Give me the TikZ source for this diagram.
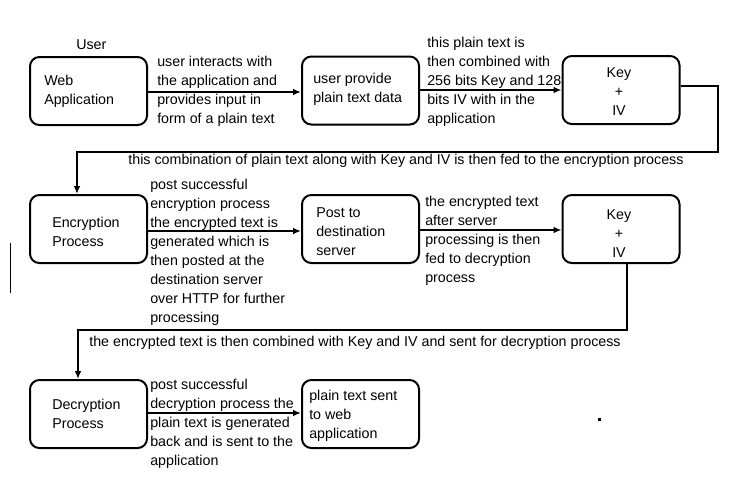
\documentclass[tikz,border=0pt]{standalone}
\usepackage{fontspec}
\setmainfont{Liberation Sans}
\begin{document}
\begin{tikzpicture}[x=0.75pt,y=-0.75pt,
  box/.style={draw,line width=1.5pt,rounded corners=7pt,minimum width=87.75pt,minimum height=51pt,inner sep=0pt},
  lbl/.style={anchor=north west,inner sep=0pt,align=left,font=\fontsize{10.7}{14.25}\selectfont},
  con/.style={line width=1.5pt,-{Latex[length=6pt,width=5pt]}}]
\usetikzlibrary{arrows.meta}
\useasboundingbox (0,0) rectangle (744,497);
\fill[white] (0,0) rectangle (744,497);
\node[box] (b1) at (88.5,91) {};
\node[lbl] at (44,75) {Web\\Application};
\node[lbl] (u) at (76,39) {User};
\node[box] (b2) at (360.5,90.5) {};
\node[lbl] at (313,73) {user provide\\plain text data};
\node[box] (b3) at (621,90) {};
\node[lbl,align=center,anchor=north] at (619,67) {Key\\+\\IV};
\node[box] (b4) at (88.5,229) {};
\node[lbl] at (52,217) {Encryption\\Process};
\node[box] (b5) at (360.5,229) {};
\node[lbl] at (316,207) {Post to\\destination\\server};
\node[box] (b6) at (621,229) {};
\node[lbl,align=center,anchor=north] at (619,209) {Key\\+\\IV};
\node[box] (b7) at (88.5,414) {};
\node[lbl] at (52,399) {Decryption\\Process};
\node[box] (b8) at (360.5,414) {};
\node[lbl] at (309,390) {plain text sent\\to web\\application};

\draw[con] (b1.east|-0,92) -- (b2.west|-0,92);
\node[lbl] at (157,56) {user interacts with\\the application and\\provides input in\\form of a plain text};
\draw[con] (b2.east|-0,90) -- (b3.west|-0,90);
\node[lbl] at (427,37) {this plain text is\\then combined with\\256 bits Key and 128\\bits IV with in the\\application};
\coordinate (c1) at (718,86);
\coordinate (c2) at (718,152);
\draw[con] (b3.east|-c1) -- (c1) -- (c2) -- (77,152) -- (b4.north-|77,0);
\node[lbl,anchor=north] at (406,154) {this combination of plain text along with Key and IV is then fed to the encryption process};
\draw[con] (b4.east|-0,231) -- (b5.west|-0,231);
\node[lbl] at (150,179) {post successful\\encryption process\\the encrypted text is\\generated which is\\then posted at the\\destination server\\over HTTP for further\\processing};
\draw[con] (b5.east|-0,230) -- (b6.west|-0,230);
\node[lbl] at (425,196) {the encrypted text\\after server\\processing is then\\fed to decryption\\process};
\coordinate (c3) at (627,330);
\draw[con] (b6.south-|c3) -- (c3) -- (78,330) -- (b7.north-|78,0);
\node[lbl,anchor=north] at (355,336) {the encrypted text is then combined with Key and IV and sent for decryption process};
\draw[con] (b7.east|-0,413) -- (b8.west|-0,413);
\node[lbl] at (150,379) {post successful\\decryption process the\\plain text is generated\\back and is sent to the\\application};
\draw (10,243) -- (10,293);
\fill (598,418) rectangle (601,421);
\end{tikzpicture}
\end{document}
